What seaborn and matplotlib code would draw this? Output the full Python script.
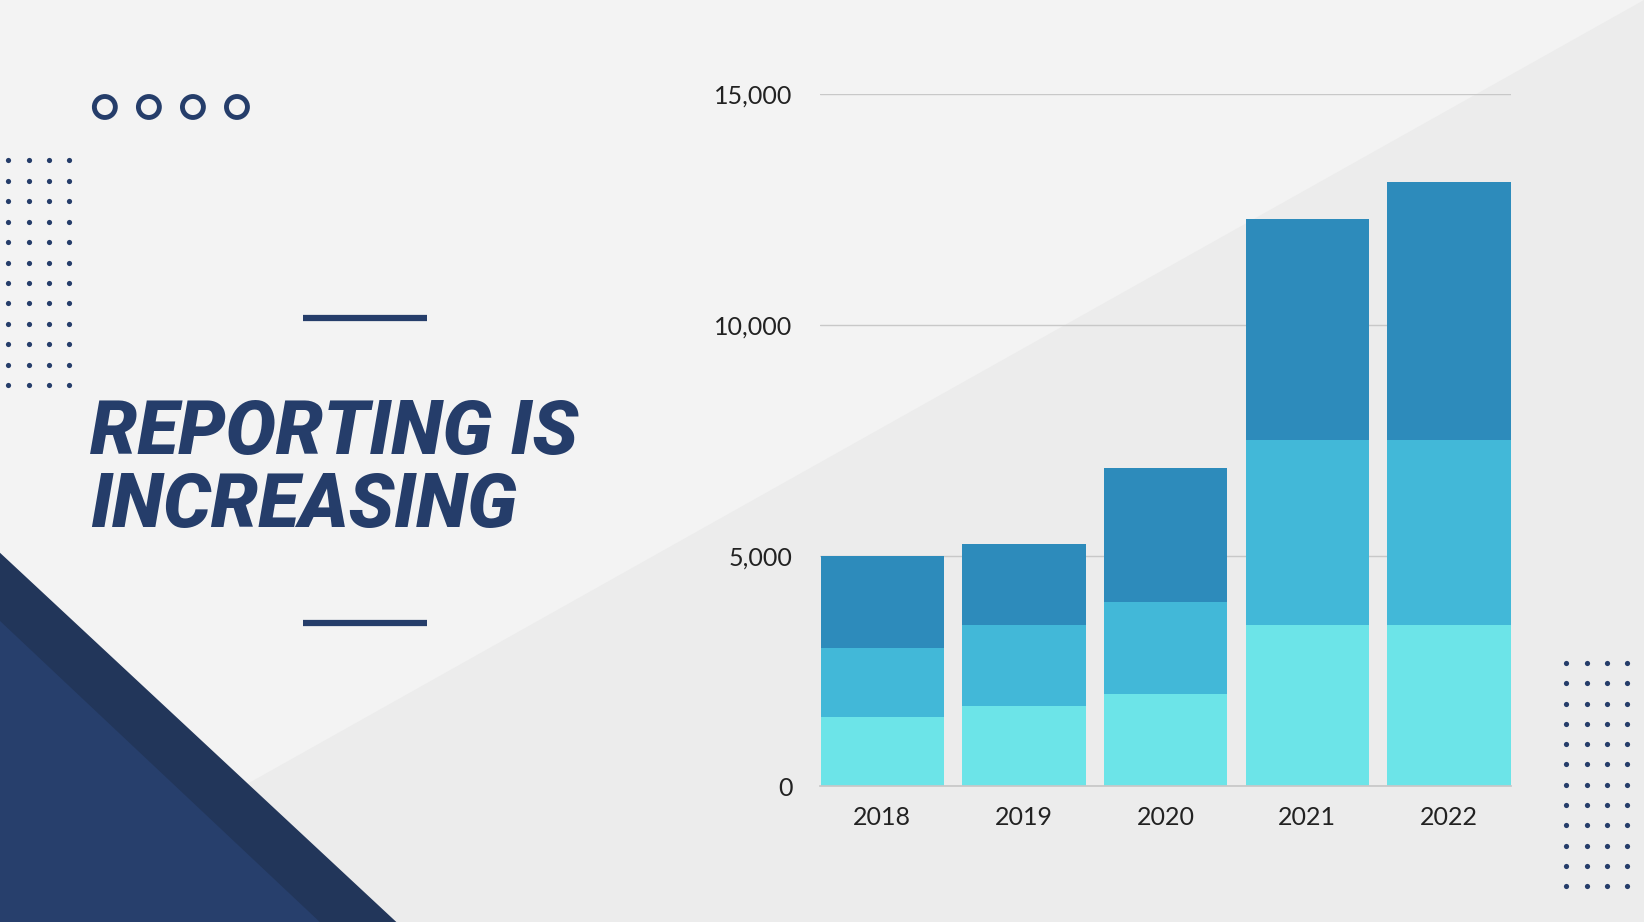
import matplotlib
matplotlib.use("Agg")
import matplotlib.pyplot as plt
import matplotlib.patches as mpatches
import numpy as np
import pandas as pd
import seaborn as sns

# data
years = ["2018", "2019", "2020", "2021", "2022"]
seg_low = [1500, 1750, 2000, 3500, 3500]
seg_mid = [1500, 1750, 2000, 4000, 4000]
seg_top = [2000, 1750, 2900, 4800, 5600]

c_low, c_mid, c_top = "#6ce4e8", "#42b8d8", "#2d8bbb"
navy = "#253d6a"

sns.set_theme(style="white")
plt.rcParams["font.family"] = ["Lato", "DejaVu Sans"]

fig = plt.figure(figsize=(16.44, 9.22), dpi=100)
fig.patch.set_facecolor("#f3f3f3")

# background decoration in reference pixel space (1568 x 879)
bg = fig.add_axes([0, 0, 1, 1], zorder=0)
bg.set_xlim(0, 1568)
bg.set_ylim(879, 0)
bg.axis("off")
bg.add_patch(mpatches.Polygon([(240, 745), (1568, 0), (1568, 879), (0, 879)],
                              closed=True, color="#ececec", lw=0))
bg.add_patch(mpatches.Polygon([(0, 527), (378, 879), (0, 879)], color="#22365a", lw=0))
bg.add_patch(mpatches.Polygon([(0, 592), (305, 879), (0, 879)], color="#273f6c", lw=0))
for x in [100, 142, 184, 226]:
    bg.add_patch(mpatches.Circle((x, 102), 10, fill=False, ec=navy, lw=3.5))
dx, dy = np.meshgrid(np.linspace(8, 66, 4), np.linspace(153, 367, 12))
bg.scatter(dx.ravel(), dy.ravel(), s=14, color=navy, lw=0)
dx, dy = np.meshgrid(np.linspace(1494, 1552, 4), np.linspace(632, 845, 12))
bg.scatter(dx.ravel(), dy.ravel(), s=14, color=navy, lw=0)
bg.plot([289, 407], [303, 303], color=navy, lw=4.5, solid_capstyle="butt")
bg.plot([289, 407], [594, 594], color=navy, lw=4.5, solid_capstyle="butt")
for y, s in [(413, "REPORTING IS"), (483, "INCREASING")]:
    bg.text(86, y, s, fontsize=54, fontweight="black", style="italic",
            family=["Roboto", "DejaVu Sans"], color=navy, va="center",
            ha="left")

# chart
ax = fig.add_axes([0.499, 0.147, 0.42, 0.751], zorder=1)
ax.patch.set_alpha(0)
df = pd.DataFrame({"year": years, "low": seg_low, "mid": seg_mid, "top": seg_top})
df["c1"] = df["low"]
df["c2"] = df["low"] + df["mid"]
df["c3"] = df["c2"] + df["top"]
for col, color in [("c3", c_top), ("c2", c_mid), ("c1", c_low)]:
    sns.barplot(data=df, x="year", y=col, color=color, width=0.87,
                saturation=1, ax=ax, zorder=2, edgecolor="none", linewidth=0)

ax.set_ylim(0, 15000)
ax.set_xlim(-0.437, 4.437)
ax.set_yticks([0, 5000, 10000, 15000])
ax.set_yticklabels(["0", "5,000", "10,000", "15,000"])
ax.yaxis.grid(True, color="#c8c8c8", lw=1)
ax.set_axisbelow(True)
ax.set_xlabel("")
ax.set_ylabel("")
for s in ["top", "right", "left"]:
    ax.spines[s].set_visible(False)
ax.spines["bottom"].set_color("#c8c8c8")
ax.tick_params(axis="both", length=0, labelsize=18, labelcolor="#222222")
ax.tick_params(axis="y", pad=20)
ax.tick_params(axis="x", pad=14)

fig.savefig("out.png", dpi=100, facecolor=fig.get_facecolor())
